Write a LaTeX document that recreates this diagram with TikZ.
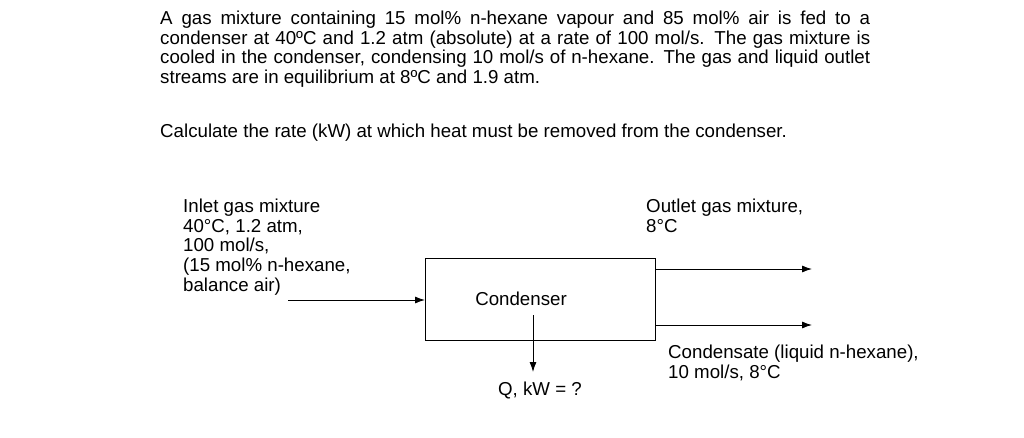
\documentclass[tikz,border=0pt]{standalone}
\usepackage{fontspec}
\setmainfont{Liberation Sans}
\usetikzlibrary{arrows.meta}
\begin{document}
\begin{tikzpicture}[x=1pt,y=-1pt,
  txt/.style={inner sep=0pt,font=\fontsize{18.7}{19.6}\selectfont},
  flow/.style={draw,line width=0.9pt,-{Latex[length=10pt,width=7pt]}}]
\useasboundingbox (0,0) rectangle (1024,438);
\node[txt,anchor=north west,text width=710pt,align=justify] (para) at (160,11)
{A gas mixture containing 15 mol\% n-hexane vapour and 85 mol\% air is fed to a\linebreak condenser at 40ºC and 1.2 atm (absolute) at a rate of 100 mol/s. The gas mixture is\linebreak cooled in the condenser, condensing 10 mol/s of n-hexane. The gas and liquid outlet\linebreak streams are in equilibrium at 8ºC and 1.9 atm.\par\vspace{34pt}\noindent Calculate the rate (kW) at which heat must be removed from the condenser.};
\node[draw,line width=0.9pt,minimum width=230pt,minimum height=82pt,anchor=north west,inner sep=0pt] (cond) at (425,258) {};
\node[txt] (clab) at (521,299) {Condenser};
\node[txt,anchor=north west,align=left] (inlet) at (183,199) {Inlet gas mixture\\40°C, 1.2 atm,\\100 mol/s,\\(15 mol\% n-hexane,\\balance air)};
\node[txt,anchor=north west,align=left] (outgas) at (646,199) {Outlet gas mixture,\\8°C};
\node[txt,anchor=north west,align=left] (liq) at (668,345) {Condensate (liquid n-hexane),\\10 mol/s, 8°C};
\node[txt] (q) at (540,390) {Q, kW = ?};
\coordinate (inS) at (288,300);
\coordinate (o1) at (812,269);
\coordinate (o2) at (812,325);
\coordinate (qS) at (533,315);
\coordinate (qE) at (533,372);
\draw[flow] (inS) -- (inS -| cond.west);
\draw[flow] (o1 -| cond.east) -- (o1);
\draw[flow] (o2 -| cond.east) -- (o2);
\draw[flow] (qS) -- (qE);
\end{tikzpicture}
\end{document}
